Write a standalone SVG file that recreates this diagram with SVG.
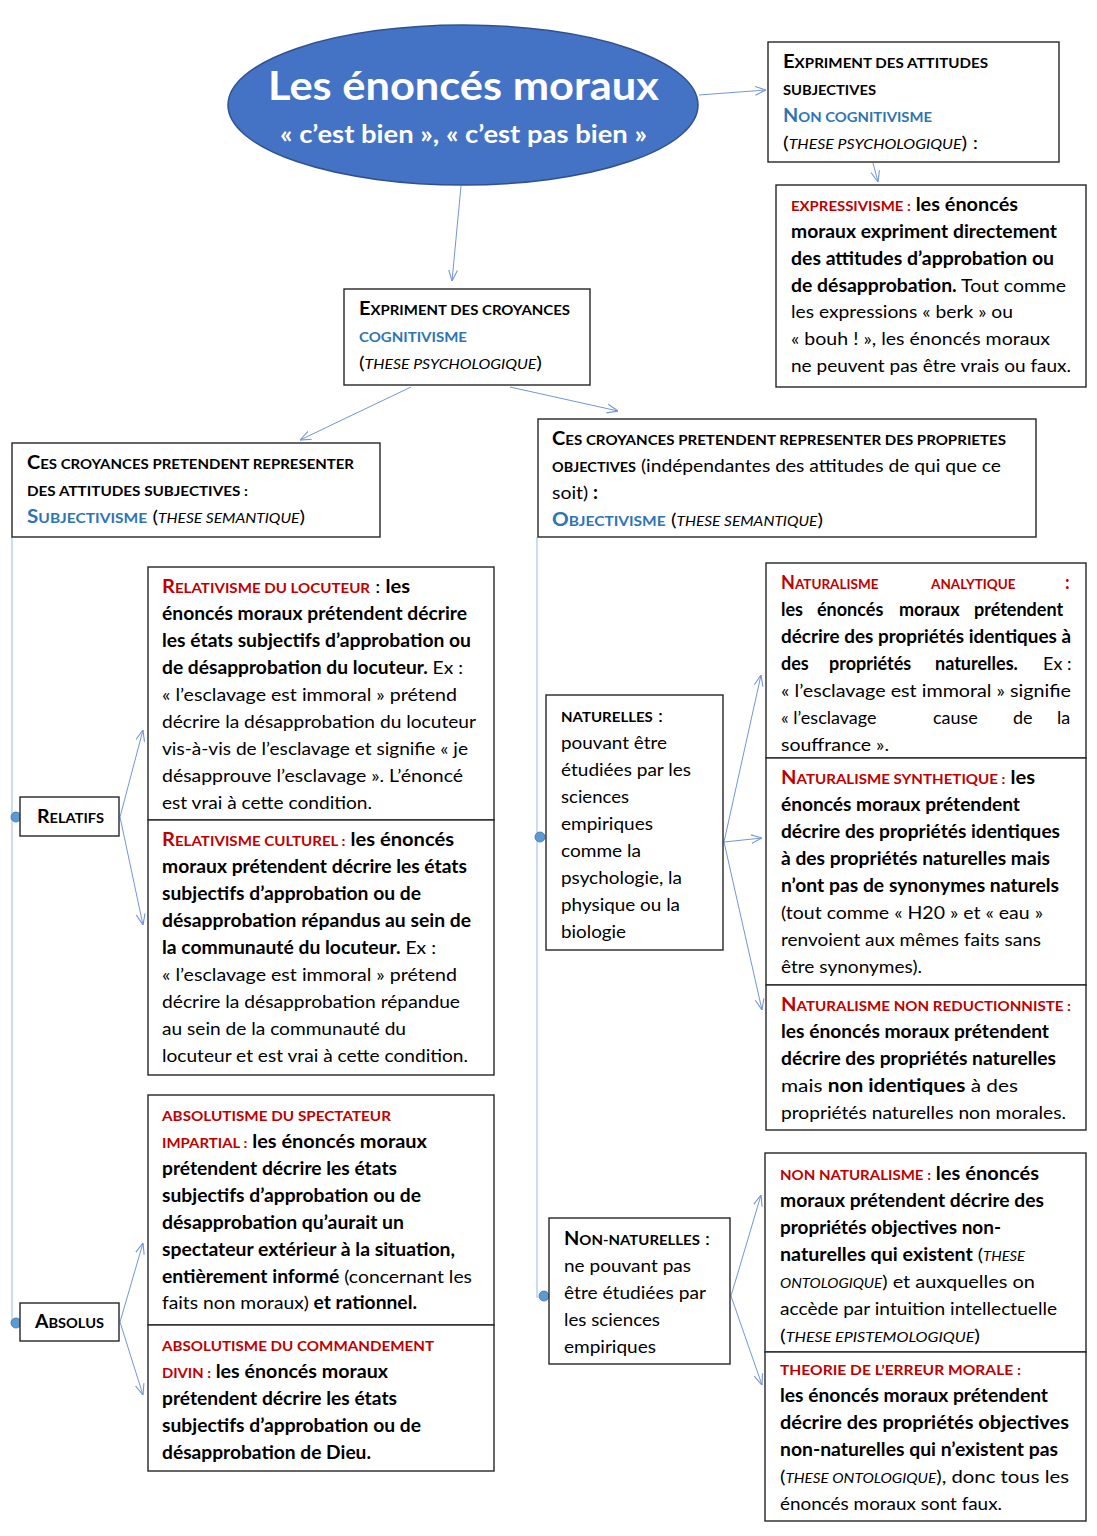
<svg xmlns="http://www.w3.org/2000/svg" width="1097" height="1536" viewBox="0 0 1097 1536">
<style>
text{font-family:Lato,"Open Sans","Liberation Sans",sans-serif;font-size:18px;fill:#000;}
.b{font-weight:bold;}
.s{font-size:13.5px;}
.r{fill:#C00000;}
.bl{fill:#2E74B5;}
.i{font-style:italic;}
.box{fill:#fff;stroke:#262626;stroke-width:1.4;}
.con{fill:none;stroke:#7396D8;stroke-width:1;}
.vl{fill:none;stroke:#A9C4EC;stroke-width:1.2;}
.dot{fill:#5B9BD5;stroke:#41719C;stroke-width:0.8;}
.title{font-size:41px;font-weight:bold;fill:#fff;}
.sub{font-size:24px;font-weight:bold;fill:#fff;}
</style>
<defs>
<marker id="arr" viewBox="0 0 10 10" refX="10" refY="5" markerWidth="11" markerHeight="11" orient="auto" markerUnits="userSpaceOnUse">
<path d="M0,1 L10,5 L0,9" fill="none" stroke="#7396D8" stroke-width="1"/>
</marker>
</defs>

<g id="connectors">
<line class="vl" x1="12" y1="537" x2="12" y2="1323"/>
<line class="vl" x1="537" y1="537" x2="537" y2="1298"/>
<line class="con" x1="699" y1="95" x2="766" y2="90" marker-end="url(#arr)"/>
<line class="con" x1="873" y1="163" x2="878" y2="182" marker-end="url(#arr)"/>
<line class="con" x1="461" y1="186" x2="452" y2="281" marker-end="url(#arr)"/>
<line class="con" x1="411" y1="387" x2="300" y2="440" marker-end="url(#arr)"/>
<line class="con" x1="510" y1="387" x2="618" y2="411" marker-end="url(#arr)"/>
<line class="con" x1="120" y1="817" x2="143" y2="730" marker-end="url(#arr)"/>
<line class="con" x1="120" y1="817" x2="143" y2="925" marker-end="url(#arr)"/>
<line class="con" x1="120" y1="1322" x2="143" y2="1243" marker-end="url(#arr)"/>
<line class="con" x1="120" y1="1322" x2="143" y2="1395" marker-end="url(#arr)"/>
<line class="con" x1="724" y1="842" x2="761" y2="675" marker-end="url(#arr)"/>
<line class="con" x1="724" y1="842" x2="762" y2="838" marker-end="url(#arr)"/>
<line class="con" x1="724" y1="842" x2="762" y2="1010" marker-end="url(#arr)"/>
<line class="con" x1="731" y1="1296" x2="761" y2="1195" marker-end="url(#arr)"/>
<line class="con" x1="731" y1="1296" x2="762" y2="1385" marker-end="url(#arr)"/>
<circle class="dot" cx="16" cy="817" r="5"/>
<circle class="dot" cx="16" cy="1323" r="5"/>
<circle class="dot" cx="540" cy="837" r="5"/>
<circle class="dot" cx="544" cy="1296" r="5"/>
</g>

<g id="n-titre">
<ellipse cx="463" cy="105" rx="235" ry="80" fill="#4472C4" stroke="#2F528F" stroke-width="1.5"/>
<text class="title" x="268" y="100" textLength="391" lengthAdjust="spacingAndGlyphs">Les énoncés moraux</text>
<text class="sub" x="280" y="143" textLength="367" lengthAdjust="spacingAndGlyphs">« c’est bien », « c’est pas bien »</text>
</g>

<g id="n-noncognitivisme">
<rect class="box" x="768" y="42" width="291" height="120"/>
<text class="b" x="783" y="68" textLength="205" lengthAdjust="spacingAndGlyphs">E<tspan class="s">XPRIMENT DES ATTITUDES</tspan></text>
<text class="b s" x="783" y="95" textLength="93" lengthAdjust="spacingAndGlyphs">SUBJECTIVES</text>
<text class="b bl" x="783" y="122" textLength="149" lengthAdjust="spacingAndGlyphs">N<tspan class="s">ON COGNITIVISME</tspan></text>
<text x="783" y="149" textLength="195" lengthAdjust="spacingAndGlyphs">(<tspan class="i s">THESE PSYCHOLOGIQUE</tspan>) :</text>
</g>

<g id="n-expressivisme">
<rect class="box" x="776" y="185" width="310" height="202"/>
<text x="791" y="211" textLength="227" lengthAdjust="spacingAndGlyphs"><tspan class="b s r">EXPRESSIVISME :</tspan><tspan class="b"> les énoncés</tspan></text>
<text class="b" x="791" y="238" textLength="266" lengthAdjust="spacingAndGlyphs">moraux expriment directement</text>
<text class="b" x="791" y="265" textLength="263" lengthAdjust="spacingAndGlyphs">des attitudes d’approbation ou</text>
<text x="791" y="292" textLength="275" lengthAdjust="spacingAndGlyphs"><tspan class="b">de désapprobation.</tspan> Tout comme</text>
<text x="791" y="318" textLength="222" lengthAdjust="spacingAndGlyphs">les expressions « berk » ou</text>
<text x="791" y="345" textLength="259" lengthAdjust="spacingAndGlyphs">« bouh ! », les énoncés moraux</text>
<text x="791" y="372" textLength="280" lengthAdjust="spacingAndGlyphs">ne peuvent pas être vrais ou faux.</text>
</g>

<g id="n-cognitivisme">
<rect class="box" x="344" y="289" width="246" height="96"/>
<text class="b" x="359" y="315" textLength="211" lengthAdjust="spacingAndGlyphs">E<tspan class="s">XPRIMENT DES CROYANCES</tspan></text>
<text class="b s bl" x="359" y="342" textLength="108" lengthAdjust="spacingAndGlyphs">COGNITIVISME</text>
<text x="359" y="369" textLength="183" lengthAdjust="spacingAndGlyphs">(<tspan class="i s">THESE PSYCHOLOGIQUE</tspan>)</text>
</g>

<g id="n-subjectivisme">
<rect class="box" x="12" y="443" width="368" height="94"/>
<text class="b" x="27" y="469" textLength="327" lengthAdjust="spacingAndGlyphs">C<tspan class="s">ES CROYANCES PRETENDENT REPRESENTER</tspan></text>
<text class="b s" x="27" y="496" textLength="221" lengthAdjust="spacingAndGlyphs">DES ATTITUDES SUBJECTIVES :</text>
<text x="27" y="523" textLength="278" lengthAdjust="spacingAndGlyphs"><tspan class="b bl">S<tspan class="s">UBJECTIVISME</tspan></tspan> (<tspan class="i s">THESE SEMANTIQUE</tspan>)</text>
</g>

<g id="n-objectivisme">
<rect class="box" x="538" y="419" width="498" height="118"/>
<text class="b" x="552" y="445" textLength="454" lengthAdjust="spacingAndGlyphs">C<tspan class="s">ES CROYANCES PRETENDENT REPRESENTER DES PROPRIETES</tspan></text>
<text x="552" y="472" textLength="449" lengthAdjust="spacingAndGlyphs"><tspan class="b s">OBJECTIVES</tspan> (indépendantes des attitudes de qui que ce</text>
<text x="552" y="499" textLength="46" lengthAdjust="spacingAndGlyphs">soit)<tspan class="b"> :</tspan></text>
<text x="552" y="526" textLength="271" lengthAdjust="spacingAndGlyphs"><tspan class="b bl">O<tspan class="s">BJECTIVISME</tspan></tspan> (<tspan class="i s">THESE SEMANTIQUE</tspan>)</text>
</g>

<g id="n-relatifs">
<rect class="box" x="20" y="797" width="99" height="39"/>
<text class="b" x="37" y="823" textLength="67" lengthAdjust="spacingAndGlyphs">R<tspan class="s">ELATIFS</tspan></text>
</g>

<g id="n-absolus">
<rect class="box" x="20" y="1303" width="99" height="38"/>
<text class="b" x="35" y="1328" textLength="69" lengthAdjust="spacingAndGlyphs">A<tspan class="s">BSOLUS</tspan></text>
</g>

<g id="n-relativisme-locuteur">
<rect class="box" x="148" y="567" width="346" height="253"/>
<text x="162" y="593" textLength="248" lengthAdjust="spacingAndGlyphs"><tspan class="b r">R<tspan class="s">ELATIVISME DU LOCUTEUR</tspan></tspan> : <tspan class="b">les</tspan></text>
<text class="b" x="162" y="620" textLength="305" lengthAdjust="spacingAndGlyphs">énoncés moraux prétendent décrire</text>
<text class="b" x="162" y="647" textLength="309" lengthAdjust="spacingAndGlyphs">les états subjectifs d’approbation ou</text>
<text x="162" y="674" textLength="301" lengthAdjust="spacingAndGlyphs"><tspan class="b">de désapprobation du locuteur.</tspan> Ex :</text>
<text x="162" y="701" textLength="295" lengthAdjust="spacingAndGlyphs">« l’esclavage est immoral » prétend</text>
<text x="162" y="728" textLength="314" lengthAdjust="spacingAndGlyphs">décrire la désapprobation du locuteur</text>
<text x="162" y="755" textLength="306" lengthAdjust="spacingAndGlyphs">vis-à-vis de l’esclavage et signifie « je</text>
<text x="162" y="782" textLength="301" lengthAdjust="spacingAndGlyphs">désapprouve l’esclavage ». L’énoncé</text>
<text x="162" y="809" textLength="210" lengthAdjust="spacingAndGlyphs">est vrai à cette condition.</text>
</g>

<g id="n-relativisme-culturel">
<rect class="box" x="148" y="820" width="346" height="255"/>
<text x="162" y="846" textLength="292" lengthAdjust="spacingAndGlyphs"><tspan class="b r">R<tspan class="s">ELATIVISME CULTUREL :</tspan></tspan><tspan class="b"> les énoncés</tspan></text>
<text class="b" x="162" y="873" textLength="305" lengthAdjust="spacingAndGlyphs">moraux prétendent décrire les états</text>
<text class="b" x="162" y="900" textLength="259" lengthAdjust="spacingAndGlyphs">subjectifs d’approbation ou de</text>
<text class="b" x="162" y="927" textLength="309" lengthAdjust="spacingAndGlyphs">désapprobation répandus au sein de</text>
<text x="162" y="954" textLength="274" lengthAdjust="spacingAndGlyphs"><tspan class="b">la communauté du locuteur.</tspan> Ex :</text>
<text x="162" y="981" textLength="295" lengthAdjust="spacingAndGlyphs">« l’esclavage est immoral » prétend</text>
<text x="162" y="1008" textLength="298" lengthAdjust="spacingAndGlyphs">décrire la désapprobation répandue</text>
<text x="162" y="1035" textLength="244" lengthAdjust="spacingAndGlyphs">au sein de la communauté du</text>
<text x="162" y="1062" textLength="306" lengthAdjust="spacingAndGlyphs">locuteur et est vrai à cette condition.</text>
</g>

<g id="n-absolutisme-spectateur">
<rect class="box" x="148" y="1095" width="346" height="230"/>
<text class="b s r" x="162" y="1121" textLength="229" lengthAdjust="spacingAndGlyphs">ABSOLUTISME DU SPECTATEUR</text>
<text x="162" y="1148" textLength="265" lengthAdjust="spacingAndGlyphs"><tspan class="b s r">IMPARTIAL :</tspan><tspan class="b"> les énoncés moraux</tspan></text>
<text class="b" x="162" y="1175" textLength="235" lengthAdjust="spacingAndGlyphs">prétendent décrire les états</text>
<text class="b" x="162" y="1202" textLength="259" lengthAdjust="spacingAndGlyphs">subjectifs d’approbation ou de</text>
<text class="b" x="162" y="1229" textLength="242" lengthAdjust="spacingAndGlyphs">désapprobation qu’aurait un</text>
<text class="b" x="162" y="1256" textLength="293" lengthAdjust="spacingAndGlyphs">spectateur extérieur à la situation,</text>
<text x="162" y="1283" textLength="310" lengthAdjust="spacingAndGlyphs"><tspan class="b">entièrement informé</tspan> (concernant les</text>
<text x="162" y="1309" textLength="255" lengthAdjust="spacingAndGlyphs">faits non moraux)<tspan class="b"> et rationnel.</tspan></text>
</g>

<g id="n-absolutisme-divin">
<rect class="box" x="148" y="1325" width="346" height="146"/>
<text class="b s r" x="162" y="1351" textLength="272" lengthAdjust="spacingAndGlyphs">ABSOLUTISME DU COMMANDEMENT</text>
<text x="162" y="1378" textLength="226" lengthAdjust="spacingAndGlyphs"><tspan class="b s r">DIVIN :</tspan><tspan class="b"> les énoncés moraux</tspan></text>
<text class="b" x="162" y="1405" textLength="235" lengthAdjust="spacingAndGlyphs">prétendent décrire les états</text>
<text class="b" x="162" y="1432" textLength="259" lengthAdjust="spacingAndGlyphs">subjectifs d’approbation ou de</text>
<text class="b" x="162" y="1459" textLength="209" lengthAdjust="spacingAndGlyphs">désapprobation de Dieu.</text>
</g>

<g id="n-naturelles">
<rect class="box" x="546" y="695" width="177" height="255"/>
<text x="561" y="722" textLength="102" lengthAdjust="spacingAndGlyphs"><tspan class="b s">NATURELLES</tspan> :</text>
<text x="561" y="749" textLength="106" lengthAdjust="spacingAndGlyphs">pouvant être</text>
<text x="561" y="776" textLength="130" lengthAdjust="spacingAndGlyphs">étudiées par les</text>
<text x="561" y="803" textLength="68" lengthAdjust="spacingAndGlyphs">sciences</text>
<text x="561" y="830" textLength="92" lengthAdjust="spacingAndGlyphs">empiriques</text>
<text x="561" y="857" textLength="80" lengthAdjust="spacingAndGlyphs">comme la</text>
<text x="561" y="884" textLength="121" lengthAdjust="spacingAndGlyphs">psychologie, la</text>
<text x="561" y="911" textLength="119" lengthAdjust="spacingAndGlyphs">physique ou la</text>
<text x="561" y="938" textLength="65" lengthAdjust="spacingAndGlyphs">biologie</text>
</g>

<g id="n-non-naturelles">
<rect class="box" x="549" y="1218" width="181" height="146"/>
<text x="564" y="1245" textLength="146" lengthAdjust="spacingAndGlyphs"><tspan class="b">N<tspan class="s">ON-NATURELLES</tspan></tspan> :</text>
<text x="564" y="1272" textLength="127" lengthAdjust="spacingAndGlyphs">ne pouvant pas</text>
<text x="564" y="1299" textLength="142" lengthAdjust="spacingAndGlyphs">être étudiées par</text>
<text x="564" y="1326" textLength="96" lengthAdjust="spacingAndGlyphs">les sciences</text>
<text x="564" y="1353" textLength="92" lengthAdjust="spacingAndGlyphs">empiriques</text>
</g>

<g id="n-naturalisme-analytique">
<rect class="box" x="766" y="563" width="320" height="195"/>
<text class="b r" y="589"><tspan x="781">N<tspan class="s">ATURALISME</tspan></tspan><tspan class="s" x="931">ANALYTIQUE</tspan><tspan x="1065">:</tspan></text>
<text class="b" y="616"><tspan x="781">les</tspan><tspan x="817">énoncés</tspan><tspan x="899">moraux</tspan><tspan x="974">prétendent</tspan></text>
<text class="b" x="781" y="643" textLength="290" lengthAdjust="spacingAndGlyphs">décrire des propriétés identiques à</text>
<text y="670"><tspan class="b" x="781">des</tspan><tspan class="b" x="829">propriétés</tspan><tspan class="b" x="935">naturelles.</tspan><tspan x="1043">Ex :</tspan></text>
<text x="781" y="697" textLength="290" lengthAdjust="spacingAndGlyphs">« l’esclavage est immoral » signifie</text>
<text y="724"><tspan x="781">« l’esclavage</tspan><tspan x="933">cause</tspan><tspan x="1013">de</tspan><tspan x="1057">la</tspan></text>
<text x="781" y="751" textLength="108" lengthAdjust="spacingAndGlyphs">souffrance ».</text>
</g>

<g id="n-naturalisme-synthetique">
<rect class="box" x="766" y="758" width="320" height="227"/>
<text x="781" y="784" textLength="254" lengthAdjust="spacingAndGlyphs"><tspan class="b r">N<tspan class="s">ATURALISME SYNTHETIQUE :</tspan></tspan><tspan class="b"> les</tspan></text>
<text class="b" x="781" y="811" textLength="239" lengthAdjust="spacingAndGlyphs">énoncés moraux prétendent</text>
<text class="b" x="781" y="838" textLength="279" lengthAdjust="spacingAndGlyphs">décrire des propriétés identiques</text>
<text class="b" x="781" y="865" textLength="269" lengthAdjust="spacingAndGlyphs">à des propriétés naturelles mais</text>
<text class="b" x="781" y="892" textLength="278" lengthAdjust="spacingAndGlyphs">n’ont pas de synonymes naturels</text>
<text x="781" y="919" textLength="262" lengthAdjust="spacingAndGlyphs">(tout comme « H20 » et « eau »</text>
<text x="781" y="946" textLength="260" lengthAdjust="spacingAndGlyphs">renvoient aux mêmes faits sans</text>
<text x="781" y="973" textLength="141" lengthAdjust="spacingAndGlyphs">être synonymes).</text>
</g>

<g id="n-naturalisme-non-reductionniste">
<rect class="box" x="766" y="985" width="320" height="145"/>
<text class="b r" x="781" y="1011" textLength="290" lengthAdjust="spacingAndGlyphs">N<tspan class="s">ATURALISME NON REDUCTIONNISTE :</tspan></text>
<text class="b" x="781" y="1038" textLength="268" lengthAdjust="spacingAndGlyphs">les énoncés moraux prétendent</text>
<text class="b" x="781" y="1065" textLength="275" lengthAdjust="spacingAndGlyphs">décrire des propriétés naturelles</text>
<text x="781" y="1092" textLength="237" lengthAdjust="spacingAndGlyphs">mais <tspan class="b">non identiques</tspan> à des</text>
<text x="781" y="1119" textLength="285" lengthAdjust="spacingAndGlyphs">propriétés naturelles non morales.</text>
</g>

<g id="n-non-naturalisme">
<rect class="box" x="765" y="1153" width="321" height="199"/>
<text x="780" y="1180" textLength="259" lengthAdjust="spacingAndGlyphs"><tspan class="b s r">NON NATURALISME :</tspan><tspan class="b"> les énoncés</tspan></text>
<text class="b" x="780" y="1207" textLength="264" lengthAdjust="spacingAndGlyphs">moraux prétendent décrire des</text>
<text class="b" x="780" y="1234" textLength="221" lengthAdjust="spacingAndGlyphs">propriétés objectives non-</text>
<text x="780" y="1261" textLength="245" lengthAdjust="spacingAndGlyphs"><tspan class="b">naturelles qui existent</tspan> (<tspan class="i s">THESE</tspan></text>
<text x="780" y="1288" textLength="255" lengthAdjust="spacingAndGlyphs"><tspan class="i s">ONTOLOGIQUE</tspan>) et auxquelles on</text>
<text x="780" y="1315" textLength="277" lengthAdjust="spacingAndGlyphs">accède par intuition intellectuelle</text>
<text x="780" y="1342" textLength="200" lengthAdjust="spacingAndGlyphs">(<tspan class="i s">THESE EPISTEMOLOGIQUE</tspan>)</text>
</g>

<g id="n-erreur-morale">
<rect class="box" x="765" y="1352" width="321" height="169"/>
<text class="b s r" x="780" y="1375" textLength="241" lengthAdjust="spacingAndGlyphs">THEORIE DE L’ERREUR MORALE :</text>
<text class="b" x="780" y="1402" textLength="268" lengthAdjust="spacingAndGlyphs">les énoncés moraux prétendent</text>
<text class="b" x="780" y="1429" textLength="289" lengthAdjust="spacingAndGlyphs">décrire des propriétés objectives</text>
<text class="b" x="780" y="1456" textLength="278" lengthAdjust="spacingAndGlyphs">non-naturelles qui n’existent pas</text>
<text x="780" y="1483" textLength="289" lengthAdjust="spacingAndGlyphs">(<tspan class="i s">THESE ONTOLOGIQUE</tspan>), donc tous les</text>
<text x="780" y="1510" textLength="222" lengthAdjust="spacingAndGlyphs">énoncés moraux sont faux.</text>
</g>
</svg>
